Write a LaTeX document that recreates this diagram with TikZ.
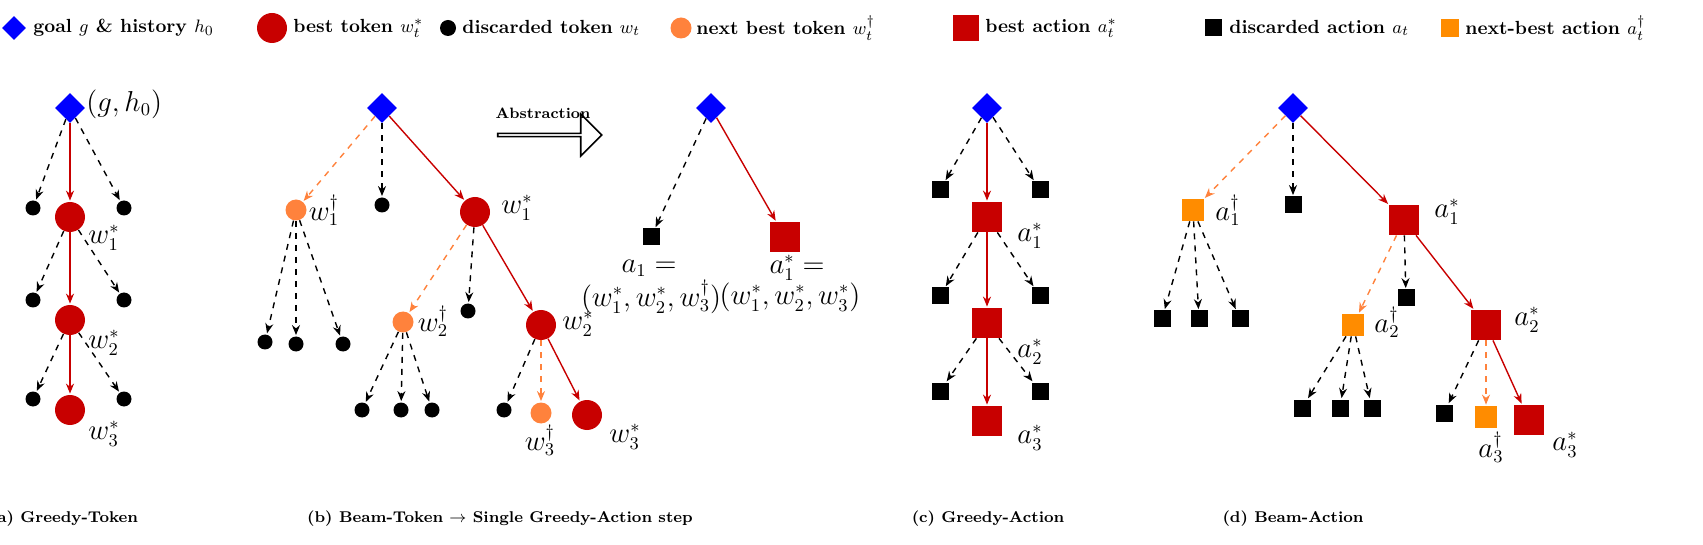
\documentclass[tikz,border=0pt]{standalone}
\usetikzlibrary{shapes.geometric,arrows.meta,shapes.arrows}
\definecolor{rd}{RGB}{200,0,0}
\definecolor{og}{RGB}{255,130,60}
\definecolor{osq}{RGB}{255,140,0}
\begin{document}
\begin{tikzpicture}[x=0.5pt,y=-0.5pt,
 dia/.style={diamond,fill=blue,inner sep=0,minimum size=15pt},
 rc/.style={circle,fill=rd,inner sep=0,minimum size=#1},
 rc/.default=15pt,
 bc/.style={circle,fill=black,inner sep=0,minimum size=7.5pt},
 oc/.style={circle,fill=og,inner sep=0,minimum size=10.5pt},
 rs/.style={rectangle,fill=rd,inner sep=0,minimum size=15pt},
 bs/.style={rectangle,fill=black,inner sep=0,minimum size=8.5pt},
 os/.style={rectangle,fill=osq,inner sep=0,minimum size=11pt},
 ed/.style={-{Stealth[length=5pt,width=4pt]},line width=0.7pt,shorten >=0.5pt},
 bd/.style={ed,dashed,black},
 rl/.style={ed,rd},
 od/.style={ed,dashed,og},
 lab/.style={font=\fontsize{13.5}{15}\selectfont,inner sep=0},
 captxt/.style={font=\bfseries\fontsize{7.8}{9}\selectfont},
 leg/.style={font=\bfseries\fontsize{9.5}{11}\selectfont,anchor=west,inner sep=0}]
\useasboundingbox (0,0) rectangle (1703,545);
% legend
\node[dia,minimum size=12pt] (L1) at (14,28) {};
\node[leg] (L1t) at (33,28) {goal $g$ \& history $h_0$};
\node[rc=15pt] (L2) at (272,28) {};
\node[leg] (L2t) at (293,28) {best token $w_t^*$};
\node[bc,minimum size=8pt] (L3) at (448,28) {};
\node[leg] (L3t) at (462,28) {discarded token $w_t$};
\node[oc] (L4) at (681,28) {};
\node[leg] (L4t) at (696,28) {next best token $w_t^\dagger$};
\node[rs,minimum size=13pt] (L5) at (966,28) {};
\node[leg] (L5t) at (985,28) {best action $a_t^*$};
\node[bs] (L6) at (1213,28) {};
\node[leg] (L6t) at (1229,28) {discarded action $a_t$};
\node[os,minimum size=9pt] (L7) at (1450,28) {};
\node[leg] (L7t) at (1465,28) {next-best action $a_t^\dagger$};
% (a)
\node[dia] (a0) at (70,108) {};
\node[lab,anchor=west] (a0l) at (86,104) {$(g,h_0)$};
\node[rc] (a1) at (70,217) {};
\node[rc] (a2) at (70,320) {};
\node[rc] (a3) at (70,410) {};
\node[bc] (ab1) at (33,208) {}; \node[bc] (ac1) at (124,208) {};
\node[bc] (ab2) at (33,300) {}; \node[bc] (ac2) at (124,300) {};
\node[bc] (ab3) at (33,399) {}; \node[bc] (ac3) at (124,399) {};
\node[lab] (a1l) at (104,238) {$w_1^*$};
\node[lab] (a2l) at (104,343) {$w_2^*$};
\node[lab] (a3l) at (104,434) {$w_3^*$};
\draw[rl] (a0)--(a1); \draw[rl] (a1)--(a2); \draw[rl] (a2)--(a3);
\draw[bd] (a0)--(ab1); \draw[bd] (a0)--(ac1);
\draw[bd] (a1)--(ab2); \draw[bd] (a1)--(ac2);
\draw[bd] (a2)--(ab3); \draw[bd] (a2)--(ac3);
\node[captxt] (capa) at (64,519) {(a) Greedy-Token};
% (b)
\node[dia] (b0) at (382,108) {};
\node[oc] (bo1) at (296,210) {};
\node[bc] (bb1) at (382,205) {};
\node[rc] (br1) at (475,212) {};
\node[lab] (bo1l) at (324,210) {$w_1^\dagger$};
\node[lab] (br1l) at (517,208) {$w_1^*$};
\node[bc] (bx1) at (265,342) {}; \node[bc] (bx2) at (296,344) {}; \node[bc] (bx3) at (343,344) {};
\node[oc] (bo2) at (403,322) {};
\node[bc] (bb2) at (468,311) {};
\node[rc] (br2) at (541,325) {};
\node[lab] (bo2l) at (433,321) {$w_2^\dagger$};
\node[lab] (br2l) at (578,324) {$w_2^*$};
\node[bc] (by1) at (362,410) {}; \node[bc] (by2) at (401,410) {}; \node[bc] (by3) at (432,410) {};
\node[bc] (bz1) at (504,410) {};
\node[oc] (bo3) at (541,413) {};
\node[rc] (br3) at (587,415) {};
\node[lab] (bo3l) at (540,440) {$w_3^\dagger$};
\node[lab] (br3l) at (625,437) {$w_3^*$};
\draw[od] (b0)--(bo1); \draw[bd] (b0)--(bb1); \draw[rl] (b0)--(br1);
\draw[bd] (bo1)--(bx1); \draw[bd] (bo1)--(bx2); \draw[bd] (bo1)--(bx3);
\draw[od] (br1)--(bo2); \draw[bd] (br1)--(bb2); \draw[rl] (br1)--(br2);
\draw[bd] (bo2)--(by1); \draw[bd] (bo2)--(by2); \draw[bd] (bo2)--(by3);
\draw[bd] (br2)--(bz1); \draw[od] (br2)--(bo3); \draw[rl] (br2)--(br3);
\node[single arrow,draw,line width=0.8pt,minimum width=21pt,single arrow head extend=5pt,minimum height=52pt,inner sep=0pt] (abs) at (549,135) {};
\node[font=\bfseries\fontsize{7.5}{9}\selectfont] (absl) at (543,113) {Abstraction};
\node[dia] (e0) at (711,108) {};
\node[bs] (e1) at (651,237) {};
\node[rs] (e2) at (785,237) {};
\draw[bd] (e0)--(e1); \draw[rl] (e0)--(e2);
\node[lab] (e1l) at (649,268) {$a_1=$};
\node[lab] (e1m) at (651,297) {$(w_1^*,w_2^*,w_3^\dagger)$};
\node[lab] (e2l) at (797,268) {$a_1^*=$};
\node[lab] (e2m) at (790,297) {$(w_1^*,w_2^*,w_3^*)$};
\node[captxt] (capb) at (500,519) {(b) Beam-Token $\rightarrow$ Single Greedy-Action step};
% (c)
\node[dia] (c0) at (987,108) {};
\node[rs] (c1) at (987,217) {};
\node[rs] (c2) at (987,323) {};
\node[rs] (c3) at (987,421) {};
\node[bs] (cb1) at (940,190) {}; \node[bs] (cc1) at (1040,190) {};
\node[bs] (cb2) at (940,296) {}; \node[bs] (cc2) at (1040,296) {};
\node[bs] (cb3) at (940,391) {}; \node[bs] (cc3) at (1040,391) {};
\node[lab] (c1l) at (1030,236) {$a_1^*$};
\node[lab] (c2l) at (1030,352) {$a_2^*$};
\node[lab] (c3l) at (1030,438) {$a_3^*$};
\draw[rl] (c0)--(c1); \draw[rl] (c1)--(c2); \draw[rl] (c2)--(c3);
\draw[bd] (c0)--(cb1); \draw[bd] (c0)--(cc1);
\draw[bd] (c1)--(cb2); \draw[bd] (c1)--(cc2);
\draw[bd] (c2)--(cb3); \draw[bd] (c2)--(cc3);
\node[captxt] (capc) at (988,519) {(c) Greedy-Action};
% (d)
\node[dia] (d0) at (1293,108) {};
\node[os] (do1) at (1193,210) {};
\node[bs] (db1) at (1293,205) {};
\node[rs] (dr1) at (1404,220) {};
\node[lab] (do1l) at (1228,210) {$a_1^\dagger$};
\node[lab] (dr1l) at (1447,212) {$a_1^*$};
\node[bs] (dx1) at (1162,319) {}; \node[bs] (dx2) at (1199,319) {}; \node[bs] (dx3) at (1240,319) {};
\node[os] (do2) at (1353,325) {};
\node[bs] (db2) at (1406,298) {};
\node[rs] (dr2) at (1486,325) {};
\node[lab] (do2l) at (1387,322) {$a_2^\dagger$};
\node[lab] (dr2l) at (1527,320) {$a_2^*$};
\node[bs] (dy1) at (1302,408) {}; \node[bs] (dy2) at (1340,408) {}; \node[bs] (dy3) at (1372,408) {};
\node[bs] (dz1) at (1444,413) {};
\node[os] (do3) at (1486,417) {};
\node[rs] (dr3) at (1529,420) {};
\node[lab] (do3l) at (1491,447) {$a_3^\dagger$};
\node[lab] (dr3l) at (1565,445) {$a_3^*$};
\draw[od] (d0)--(do1); \draw[bd] (d0)--(db1); \draw[rl] (d0)--(dr1);
\draw[bd] (do1)--(dx1); \draw[bd] (do1)--(dx2); \draw[bd] (do1)--(dx3);
\draw[od] (dr1)--(do2); \draw[bd] (dr1)--(db2); \draw[rl] (dr1)--(dr2);
\draw[bd] (do2)--(dy1); \draw[bd] (do2)--(dy2); \draw[bd] (do2)--(dy3);
\draw[bd] (dr2)--(dz1); \draw[od] (dr2)--(do3); \draw[rl] (dr2)--(dr3);
\node[captxt] (capd) at (1293,519) {(d) Beam-Action};
\end{tikzpicture}
\end{document}
